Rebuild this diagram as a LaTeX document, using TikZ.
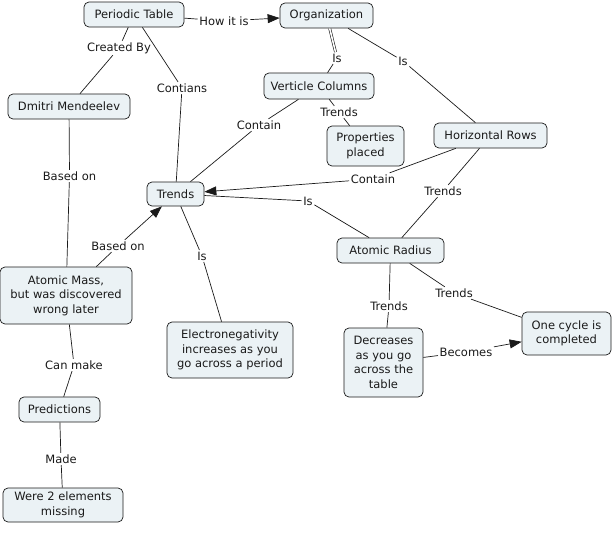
\documentclass[tikz,border=0pt]{standalone}
\usepackage{fontspec}
\setmainfont{DejaVu Sans}
\usetikzlibrary{arrows.meta}
\definecolor{boxfill}{HTML}{EBF2F5}
\definecolor{ink}{HTML}{1A1A1A}
\tikzset{
  concept/.style={draw=ink, fill=boxfill, rounded corners=5pt, align=center, inner sep=0pt,
    font=\fontsize{11.5}{14.5}\selectfont, text=ink, line width=0.7pt},
  lbl/.style={fill=white, inner sep=1.5pt, font=\fontsize{11.5}{14.5}\selectfont, text=ink},
  link/.style={draw=ink, line width=0.7pt},
  arr/.style={link, -{Triangle[length=12pt,width=9pt]}},
}
\begin{document}
\begin{tikzpicture}[x=1pt,y=-1pt]
\useasboundingbox (0,0) rectangle (614,533);
% concepts
\node[concept, minimum width=100pt, minimum height=25pt] (pt) at (134,14.5) {Periodic Table};
\node[concept, minimum width=93pt, minimum height=25pt] (org) at (326.5,15.5) {Organization};
\node[concept, minimum width=110pt, minimum height=26pt] (vc) at (319,86) {Verticle Columns};
\node[concept, minimum width=122pt, minimum height=25pt] (dm) at (69,106.5) {Dmitri Mendeelev};
\node[concept, minimum width=77pt, minimum height=40pt] (pp) at (365.5,146) {Properties\\placed};
\node[concept, minimum width=113pt, minimum height=25pt] (hr) at (490.5,135.5) {Horizontal Rows};
\node[concept, minimum width=57pt, minimum height=24pt] (tr) at (175.5,194) {Trends};
\node[concept, minimum width=107pt, minimum height=25pt] (ar) at (390.5,250.5) {Atomic Radius};
\node[concept, minimum width=132pt, minimum height=57pt] (am) at (66,295.5) {Atomic Mass,\\but was discovered\\wrong later};
\node[concept, minimum width=126pt, minimum height=56pt] (el) at (230,350) {Electronegativity\\increases as you\\go across a period};
\node[concept, minimum width=79pt, minimum height=69pt] (de) at (383.5,362.5) {Decreases\\as you go\\across the\\table};
\node[concept, minimum width=89pt, minimum height=43pt] (oc) at (566.5,333.5) {One cycle is\\completed};
\node[concept, minimum width=81pt, minimum height=25pt] (pr) at (59.5,409.5) {Predictions};
\node[concept, minimum width=120pt, minimum height=34pt] (we) at (63,505) {Were 2 elements\\missing};
% labels
\node[lbl] (l1) at (224,21) {How it is};
\node[lbl] (l2) at (119,48) {Created By};
\node[lbl] (l3) at (182,88) {Contians};
\node[lbl] (l4) at (337,58) {Is};
\node[lbl] (l5) at (403,61) {Is};
\node[lbl] (l6) at (339,112) {Trends};
\node[lbl] (l7) at (259,125) {Contain};
\node[lbl] (l8) at (373,179) {Contain};
\node[lbl] (l9) at (443,191) {Trends};
\node[lbl] (l10) at (308,201) {Is};
\node[lbl] (l11) at (69.5,176) {Based on};
\node[lbl] (l12) at (118,246) {Based on};
\node[lbl] (l13) at (202,256) {Is};
\node[lbl] (l14) at (74,365) {Can make};
\node[lbl] (l15) at (61,459) {Made};
\node[lbl] (l16) at (389,306) {Trends};
\node[lbl] (l17) at (454,293) {Trends};
\node[lbl] (l18) at (466,352) {Becomes};
% links
\draw[link] (pt) -- (l1); \draw[arr] (l1) -- (org);
\draw[link] (pt) -- (l2) -- (dm);
\draw[link] (pt) -- (l3) -- (tr);
\draw[link, double=white, double distance=1.6pt, line width=0.6pt] (org) -- (l4);
\draw[link] (l4) -- (vc);
\draw[link] (org) -- (l5) -- (hr);
\draw[link] (vc) -- (l6) -- (pp);
\draw[link] (vc) -- (l7) -- (tr);
\draw[link] (hr) -- (l8); \draw[arr] (l8) -- (tr);
\draw[link] (hr) -- (l9) -- (ar);
\draw[link] (tr) -- (l10) -- (ar);
\draw[link] (dm) -- (l11) -- (am);
\draw[link] (am) -- (l12); \draw[arr] (l12) -- (tr);
\draw[link] (tr) -- (l13) -- (el);
\draw[link] (am) -- (l14) -- (pr);
\draw[link] (pr) -- (l15) -- (we);
\draw[link] (ar) -- (l16) -- (de);
\draw[link] (ar) -- (l17) -- (oc);
\draw[link] (de) -- (l18); \draw[arr] (l18) -- (oc);
\end{tikzpicture}
\end{document}
